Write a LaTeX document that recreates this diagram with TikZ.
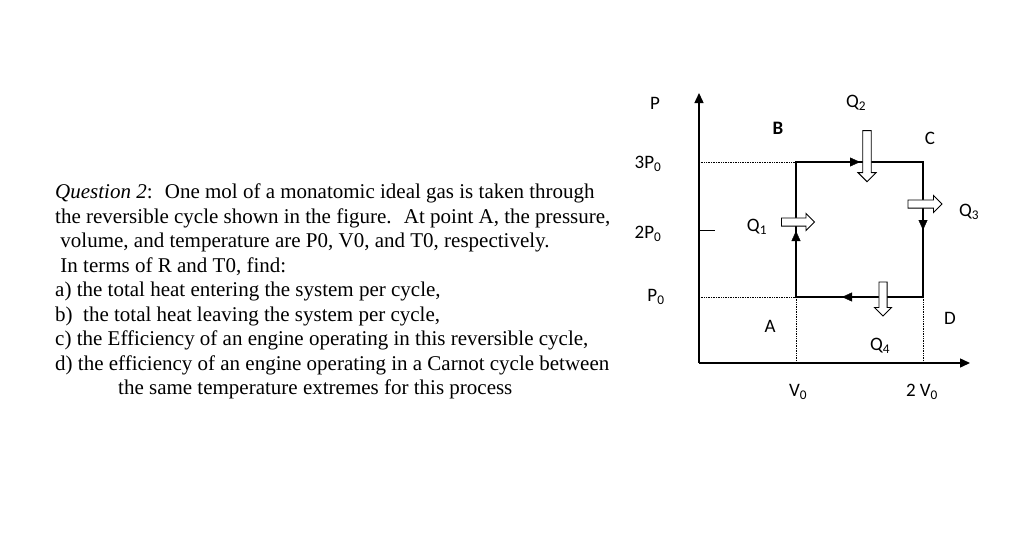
\documentclass[tikz,border=0pt]{standalone}
\usepackage{fontspec}
\setmainfont{Liberation Serif}
\newfontfamily\lab{Carlito}
\usetikzlibrary{shapes.arrows,arrows.meta}
\begin{document}
\begin{tikzpicture}[x=1pt,y=-1pt,
  lbl/.style={font=\lab\fontsize{19}{21}\selectfont,inner sep=0},
  hol/.style={single arrow,draw,fill=white,line width=0.9pt,inner sep=3.6pt,single arrow head extend=4.5pt,anchor=center},
  ln/.style={line width=1.4pt},
  dot/.style={densely dotted,line width=0.7pt},
  mid/.style={-{Triangle[length=10pt,width=9pt]}}]
\useasboundingbox (0,0) rectangle (1024,541);
\node[anchor=north west,inner sep=0,font=\fontsize{21}{24.5}\selectfont,align=left] (txt) at (55,184) {%
\textit{Question 2}: \ One mol of a monatomic ideal gas is taken through\\
the reversible cycle shown in the figure. \ At point A, the pressure,\\
\ volume, and temperature are P0, V0, and T0, respectively.\\
\ In terms of R and T0, find:\\
a) the total heat entering the system per cycle,\\
b) \ the total heat leaving the system per cycle,\\
c) the Efficiency of an engine operating in this reversible cycle,\\
d) the efficiency of an engine operating in a Carnot cycle between\\
\hspace*{63pt}the same temperature extremes for this process};
% axes
\coordinate (O) at (699,363);
\coordinate (Ptop) at (699,93);
\coordinate (Vend) at (970,363);
\draw[ln,-{Triangle[length=10pt,width=9pt]}] (O) -- (Ptop);
\draw[ln,-{Triangle[length=10pt,width=9pt]}] (O) -- (Vend);
\coordinate (A) at (796,297);
\coordinate (B) at (796,162);
\coordinate (C) at (923,162);
\coordinate (D) at (923,297);
\coordinate (y3) at (699,162);
\coordinate (y1) at (699,297);
\coordinate (x1) at (796,363);
\coordinate (x2) at (923,363);
\coordinate (t1) at (699,230);
\coordinate (t2) at (715,230);
\draw[dot] (y3) -- (B);
\draw[dot] (y1) -- (A);
\draw[dot] (A) -- (x1);
\draw[dot] (D) -- (x2);
\draw[line width=1pt] (t1) -- (t2);
\draw[ln] (A) -- (B) -- (C) -- (D) -- cycle;
\coordinate (ab) at (796,231);
\coordinate (bc) at (860,162);
\coordinate (cd) at (923,230);
\coordinate (da) at (842,297);
\draw[mid] (A) -- (ab);
\draw[mid] (B) -- (bc);
\draw[mid] (C) -- (cd);
\draw[mid] (D) -- (da);
% hollow arrows
\node[hol,minimum height=33pt,minimum width=17pt] (q1) at (796,222) {};
\node[hol,minimum height=51pt,minimum width=18pt,rotate=-90] (q2) at (867,154) {};
\node[hol,minimum height=34pt,minimum width=17pt] (q3) at (923,204) {};
\node[hol,minimum height=34pt,minimum width=17pt,rotate=-90] (q4) at (883,297) {};
% labels
\node[lbl] (lP) at (655,103) {P};
\node[lbl,font=\lab\bfseries\fontsize{19}{21}\selectfont] (lB) at (778,128) {B};
\node[lbl] (lC) at (930,138) {C};
\node[lbl] (lQ2) at (856,103) {Q\textsubscript{2}};
\node[lbl] (l3) at (648,164) {3P\textsubscript{0}};
\node[lbl] (l2) at (648,234) {2P\textsubscript{0}};
\node[lbl] (lQ1) at (757,227) {Q\textsubscript{1}};
\node[lbl] (lQ3) at (969,212) {Q\textsubscript{3}};
\node[lbl] (l1) at (656,297) {P\textsubscript{0}};
\node[lbl] (lA) at (770,326) {A};
\node[lbl] (lD) at (950,318) {D};
\node[lbl] (lQ4) at (880,346) {Q\textsubscript{4}};
\node[lbl] (lV1) at (798,392) {V\textsubscript{0}};
\node[lbl] (lV2) at (922,392) {2 V\textsubscript{0}};
\end{tikzpicture}
\end{document}
